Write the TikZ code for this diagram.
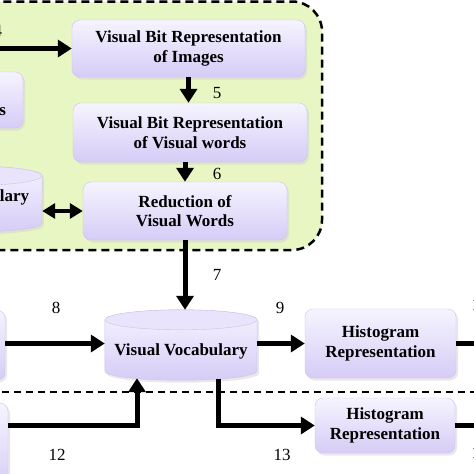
\documentclass[tikz,border=0pt]{standalone}
\usepackage{fontspec}
\setmainfont{Liberation Serif}
\usetikzlibrary{arrows.meta,positioning,calc,shadows}

\definecolor{lavtop}{RGB}{246,244,255}
\definecolor{lavbot}{RGB}{214,204,246}
\definecolor{lavedge}{RGB}{204,195,238}
\definecolor{panelgreen}{RGB}{232,246,196}

% drum (cylinder) drawn round an empty node
\newcommand\drum[1]{%
  \path[drumbody] ($(#1.north west)+(0,10)$) -- ($(#1.south west)+(0,-9)$)
     arc[start angle=180, end angle=360, x radius=76pt, y radius=9pt]
     -- ($(#1.north east)+(0,10)$)
     arc[start angle=0, end angle=180, x radius=76pt, y radius=10pt] -- cycle;
  \path[drumtop] ($(#1.north)+(0,10)$) ellipse[x radius=76pt, y radius=10pt];
}

\begin{document}
\begin{tikzpicture}[
    x=1pt, y=-1pt,
    stage/.style={rectangle, rounded corners=8pt, draw=lavedge, top color=lavtop, bottom color=lavbot,
        drop shadow={shadow xshift=2pt, shadow yshift=-2.5pt, fill=black!18},
        font=\bfseries\fontsize{17}{19.5}\selectfont, align=center, inner sep=2pt},
    store/.style={rectangle, minimum width=152pt, inner sep=0pt},
    drumbody/.style={draw=lavedge, top color=lavtop, bottom color=lavbot,
        drop shadow={shadow xshift=2pt, shadow yshift=-2.5pt, fill=black!18}},
    drumtop/.style={draw=lavedge, fill=lavtop!60!lavbot},
    drumtext/.style={font=\bfseries\fontsize{17}{19.5}\selectfont},
    flow/.style={draw, line width=5pt, -{Triangle[length=14pt,width=17pt]}},
    both/.style={draw, line width=4.5pt, {Triangle[length=13pt,width=15pt]}-{Triangle[length=13pt,width=15pt]}},
    panel/.style={draw, fill=panelgreen, line width=2.5pt, dash pattern=on 8pt off 5pt, rounded corners=30pt},
    sep/.style={draw, line width=1.6pt, dash pattern=on 7pt off 5pt},
    num/.style={font=\fontsize{17}{20}\selectfont}
]
\useasboundingbox (0,0) rectangle (474,474);

% Green panel
\draw[panel] (-200,1.5) rectangle (322,250);

% Stages inside the panel
\node[stage, minimum width=233pt, minimum height=57pt] (img) at (188.5,48.5) {Visual Bit Representation\\of Images};
\node[stage, minimum width=234pt, minimum height=59pt] (vw) at (190,132.5) {Visual Bit Representation\\of Visual words};
\node[stage, minimum width=204pt, minimum height=58pt] (red) at (185,211) {Reduction of\\Visual Words};
\node[stage, minimum width=97pt, minimum height=56pt] (feat) at (-25.5,100) {Image\\Features};
\node[store, minimum height=66pt] (oldvoc) at (-34,199) {};
\drum{oldvoc}
\node[drumtext] (oldvoclabel) at ($(oldvoc)+(-3.5,-2)$) {Visual Vocabulary};

% Lower stages
\node[store, minimum height=70pt] (voc) at (181,345) {};
\drum{voc}
\node[drumtext] (voclabel) at ($(voc)+(0,6)$) {Visual Vocabulary};
\node[stage, minimum width=151pt, minimum height=69pt] (hist1) at (380.5,343.5) {Histogram\\Representation};
\node[stage, minimum width=140pt, minimum height=55pt] (hist2) at (385,425.5) {Histogram\\Representation};
\node[stage, minimum width=120pt, minimum height=70pt] (train) at (-55,345) {};
\node[stage, minimum width=120pt, minimum height=90pt] (test) at (-52,448) {};

% Free ends
\coordinate (in4) at (-20,48.5);
\coordinate (out10) at (490,343.5);
\coordinate (out14) at (490,425.5);

% Separator
\draw[sep] (-10,392) -- (490,392);

% Connectors
\draw[flow] (in4) -- (img.west);
\draw[flow] (img.south) -- (img.south |- vw.north);
\draw[flow] (red.north |- vw.south) -- (red.north);
\draw[both] (oldvoc.east |- red.west) -- (red.west);
\draw[flow] (red.south) -- (red.south |- voc.north);
\draw[flow] (train.east |- hist1.west) -- (voc.west |- hist1.west);
\draw[flow] (voc.east |- hist1.west) -- (hist1.west);
\draw[flow] (hist1.east) -- (out10);
\draw[flow] (test.east |- hist2.west) -| ($(voc.south)+(-44,-2)$);
\draw[flow] ($(voc.south)+(37,-1)$) |- (hist2.west);
\draw[flow] (hist2.east) -- (out14);

% Step numbers
\node[num] (n4) at (-2,31) {4};
\node[num] (n5) at (217,93) {5};
\node[num] (n6) at (217,174) {6};
\node[num] (n7) at (217,275) {7};
\node[num] (n8) at (56,308) {8};
\node[num] (n9) at (280,308) {9};
\node[num, anchor=west] (n10) at (468,305) {10};
\node[num] (n12) at (57,455) {12};
\node[num] (n13) at (282,455) {13};
\node[num, anchor=west] (n14) at (468,453) {14};

\end{tikzpicture}
\end{document}
